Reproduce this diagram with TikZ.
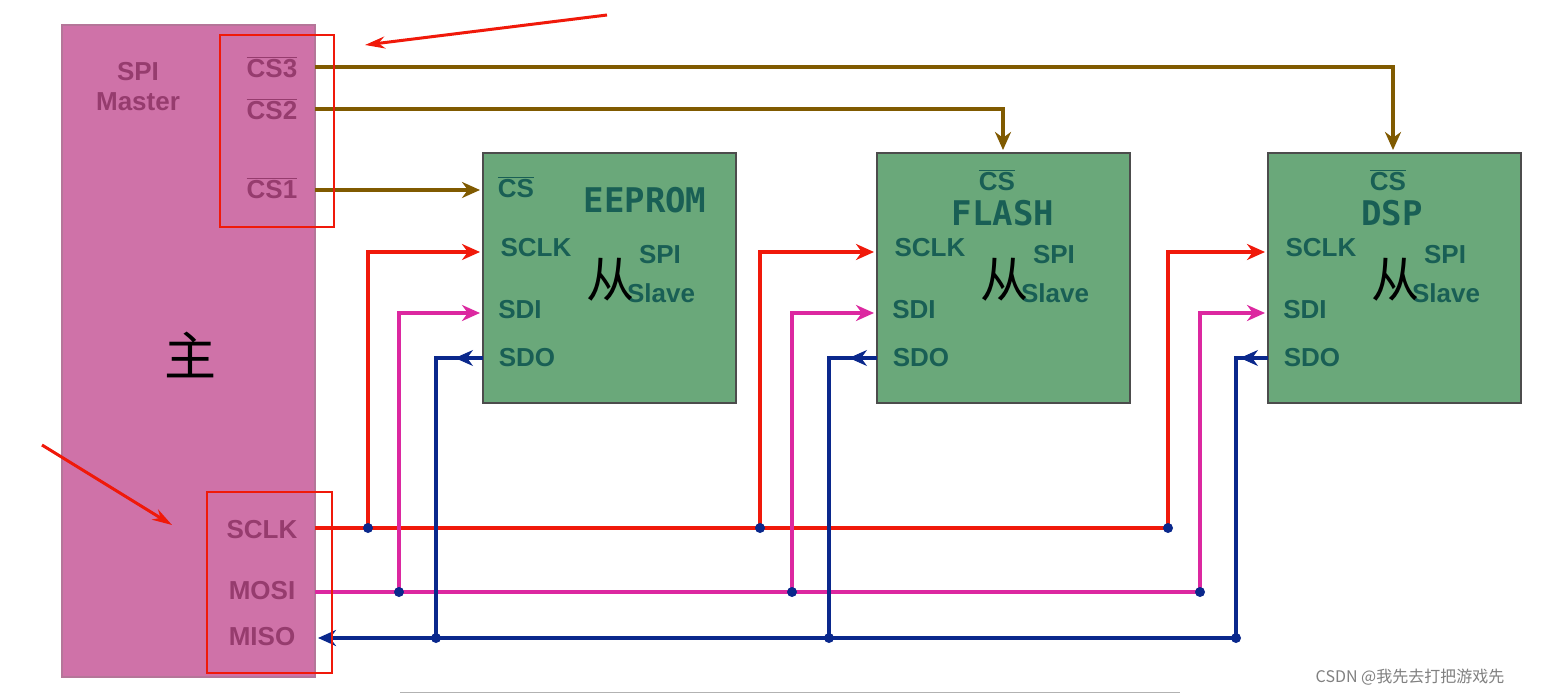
\documentclass[tikz,border=0pt]{standalone}
\usepackage{fontspec}
\setmainfont{Liberation Sans}
\newfontfamily\cjk{Noto Sans CJK SC}
\newfontfamily\mono{DejaVu Sans Mono}
\usetikzlibrary{arrows.meta}
\definecolor{mpink}{RGB}{207,114,168}
\definecolor{mtext}{RGB}{150,60,110}
\definecolor{sgreen}{RGB}{106,168,122}
\definecolor{stext}{RGB}{25,95,85}
\definecolor{brn}{RGB}{128,90,0}
\definecolor{rd}{RGB}{240,25,10}
\definecolor{mg}{RGB}{220,40,160}
\definecolor{bl}{RGB}{10,40,140}
\begin{document}
\begin{tikzpicture}[x=0.5pt,y=-0.5pt,
 slave/.style={draw=gray!60!black,fill=sgreen,line width=1pt},
 pin/.style={font=\bfseries\fontsize{13}{13}\selectfont,text=stext,inner sep=0},
 mpin/.style={font=\bfseries\fontsize{13}{13}\selectfont,text=mtext,inner sep=0},
 big/.style={font=\cjk\fontsize{24}{24}\selectfont,inner sep=0},
 wire/.style={line width=2pt},
 tip/.style={-{Stealth[length=9pt,width=8pt]}},
 dot/.style={circle,fill=#1,inner sep=0,minimum size=5pt},
 hl/.style={draw=rd,line width=1.3pt}]
\useasboundingbox (0,0) rectangle (1541,695);
\fill[white] (0,0) rectangle (1541,695);
\draw[draw=mtext!70,fill=mpink,line width=1pt] (62,25) rectangle (315,677);
\node[mpin,align=center] (mt) at (138,87) {SPI\\[2pt]Master};
\node[mpin] (cs3) at (272,67) {$\overline{\mbox{CS3}}$};
\node[mpin] (cs2) at (272,109) {$\overline{\mbox{CS2}}$};
\node[mpin] (cs1) at (272,188) {$\overline{\mbox{CS1}}$};
\node[mpin] (msclk) at (262,530) {SCLK};
\node[mpin] (mosi) at (262,591) {MOSI};
\node[mpin] (miso) at (262,637) {MISO};
\node[big,font=\cjk\fontsize{26}{26}\selectfont] (zhu) at (190,355) {主};
\foreach \n/\x/\t/\ty in {e/483/EEPROM/0,f/877/FLASH/1,d/1268/DSP/1}{
 \draw[slave] (\x,153) rectangle ++(253,250);
 \node[pin] (\n sclk) at (\x+53,248) {SCLK};
 \node[pin] (\n sdi) at (\x+37,310) {SDI};
 \node[pin] (\n sdo) at (\x+44,358) {SDO};
 \node[pin] (\n spi) at (\x+177,255) {SPI};
 \node[pin] (\n sl) at (\x+178,293) {Slave};
 \node[big] (\n c) at (\x+127,280) {从};
}
\node[pin] (ecs) at (516,187) {$\overline{\mbox{CS}}$};
\node[pin,font=\mono\bfseries\fontsize{17}{17}\selectfont] (et) at (645,200) {EEPROM};
\node[pin] (fcs) at (997,180) {$\overline{\mbox{CS}}$};
\node[pin,font=\mono\bfseries\fontsize{17}{17}\selectfont] (ft) at (1003,213) {FLASH};
\node[pin] (dcs) at (1388,180) {$\overline{\mbox{CS}}$};
\node[pin,font=\mono\bfseries\fontsize{17}{17}\selectfont] (dt) at (1392,213) {DSP};
% CS lines
\draw[wire,brn,tip] (315,67) -- (1393,67) -- (1393,150);
\draw[wire,brn,tip] (315,109) -- (1003,109) -- (1003,150);
\draw[wire,brn,tip] (315,190) -- (480,190);
% SCLK
\draw[wire,rd] (315,528) -- (1168,528);
\foreach \x/\s in {368/483,760/877,1168/1268}{
 \draw[wire,rd,tip] (\x,528) -- (\x,252) -- (\s-3,252);
 \node[dot=bl] at (\x,528) {};}
% MOSI
\draw[wire,mg] (315,592) -- (1200,592);
\foreach \x/\s in {399/483,792/877,1200/1268}{
 \draw[wire,mg,tip] (\x,592) -- (\x,313) -- (\s-3,313);
 \node[dot=bl] at (\x,592) {};}
% MISO
\draw[wire,bl,tip] (1236,638) -- (318,638);
\foreach \x/\s in {436/483,829/877,1236/1268}{
 \draw[wire,bl] (\s,358) -- (\x,358) -- (\x,638);
 \draw[bl,tip] (\s,358) -- (\s-28,358);
 \node[dot=bl] at (\x,638) {};}
% highlights
\draw[hl] (220,35) rectangle (334,227);
\draw[hl] (207,492) rectangle (332,673);
\draw[rd,line width=1.5pt,-{Stealth[length=10pt,width=6pt]}] (607,15) -- (365,45);
\draw[rd,line width=1.5pt,-{Stealth[length=10pt,width=6pt]}] (42,445) -- (172,525);
\draw[gray!60] (400,692) -- (1180,692);
\node[text=gray,font=\cjk\fontsize{8}{8}\selectfont] (wm) at (1410,677) {CSDN @我先去打把游戏先};
\end{tikzpicture}
\end{document}
